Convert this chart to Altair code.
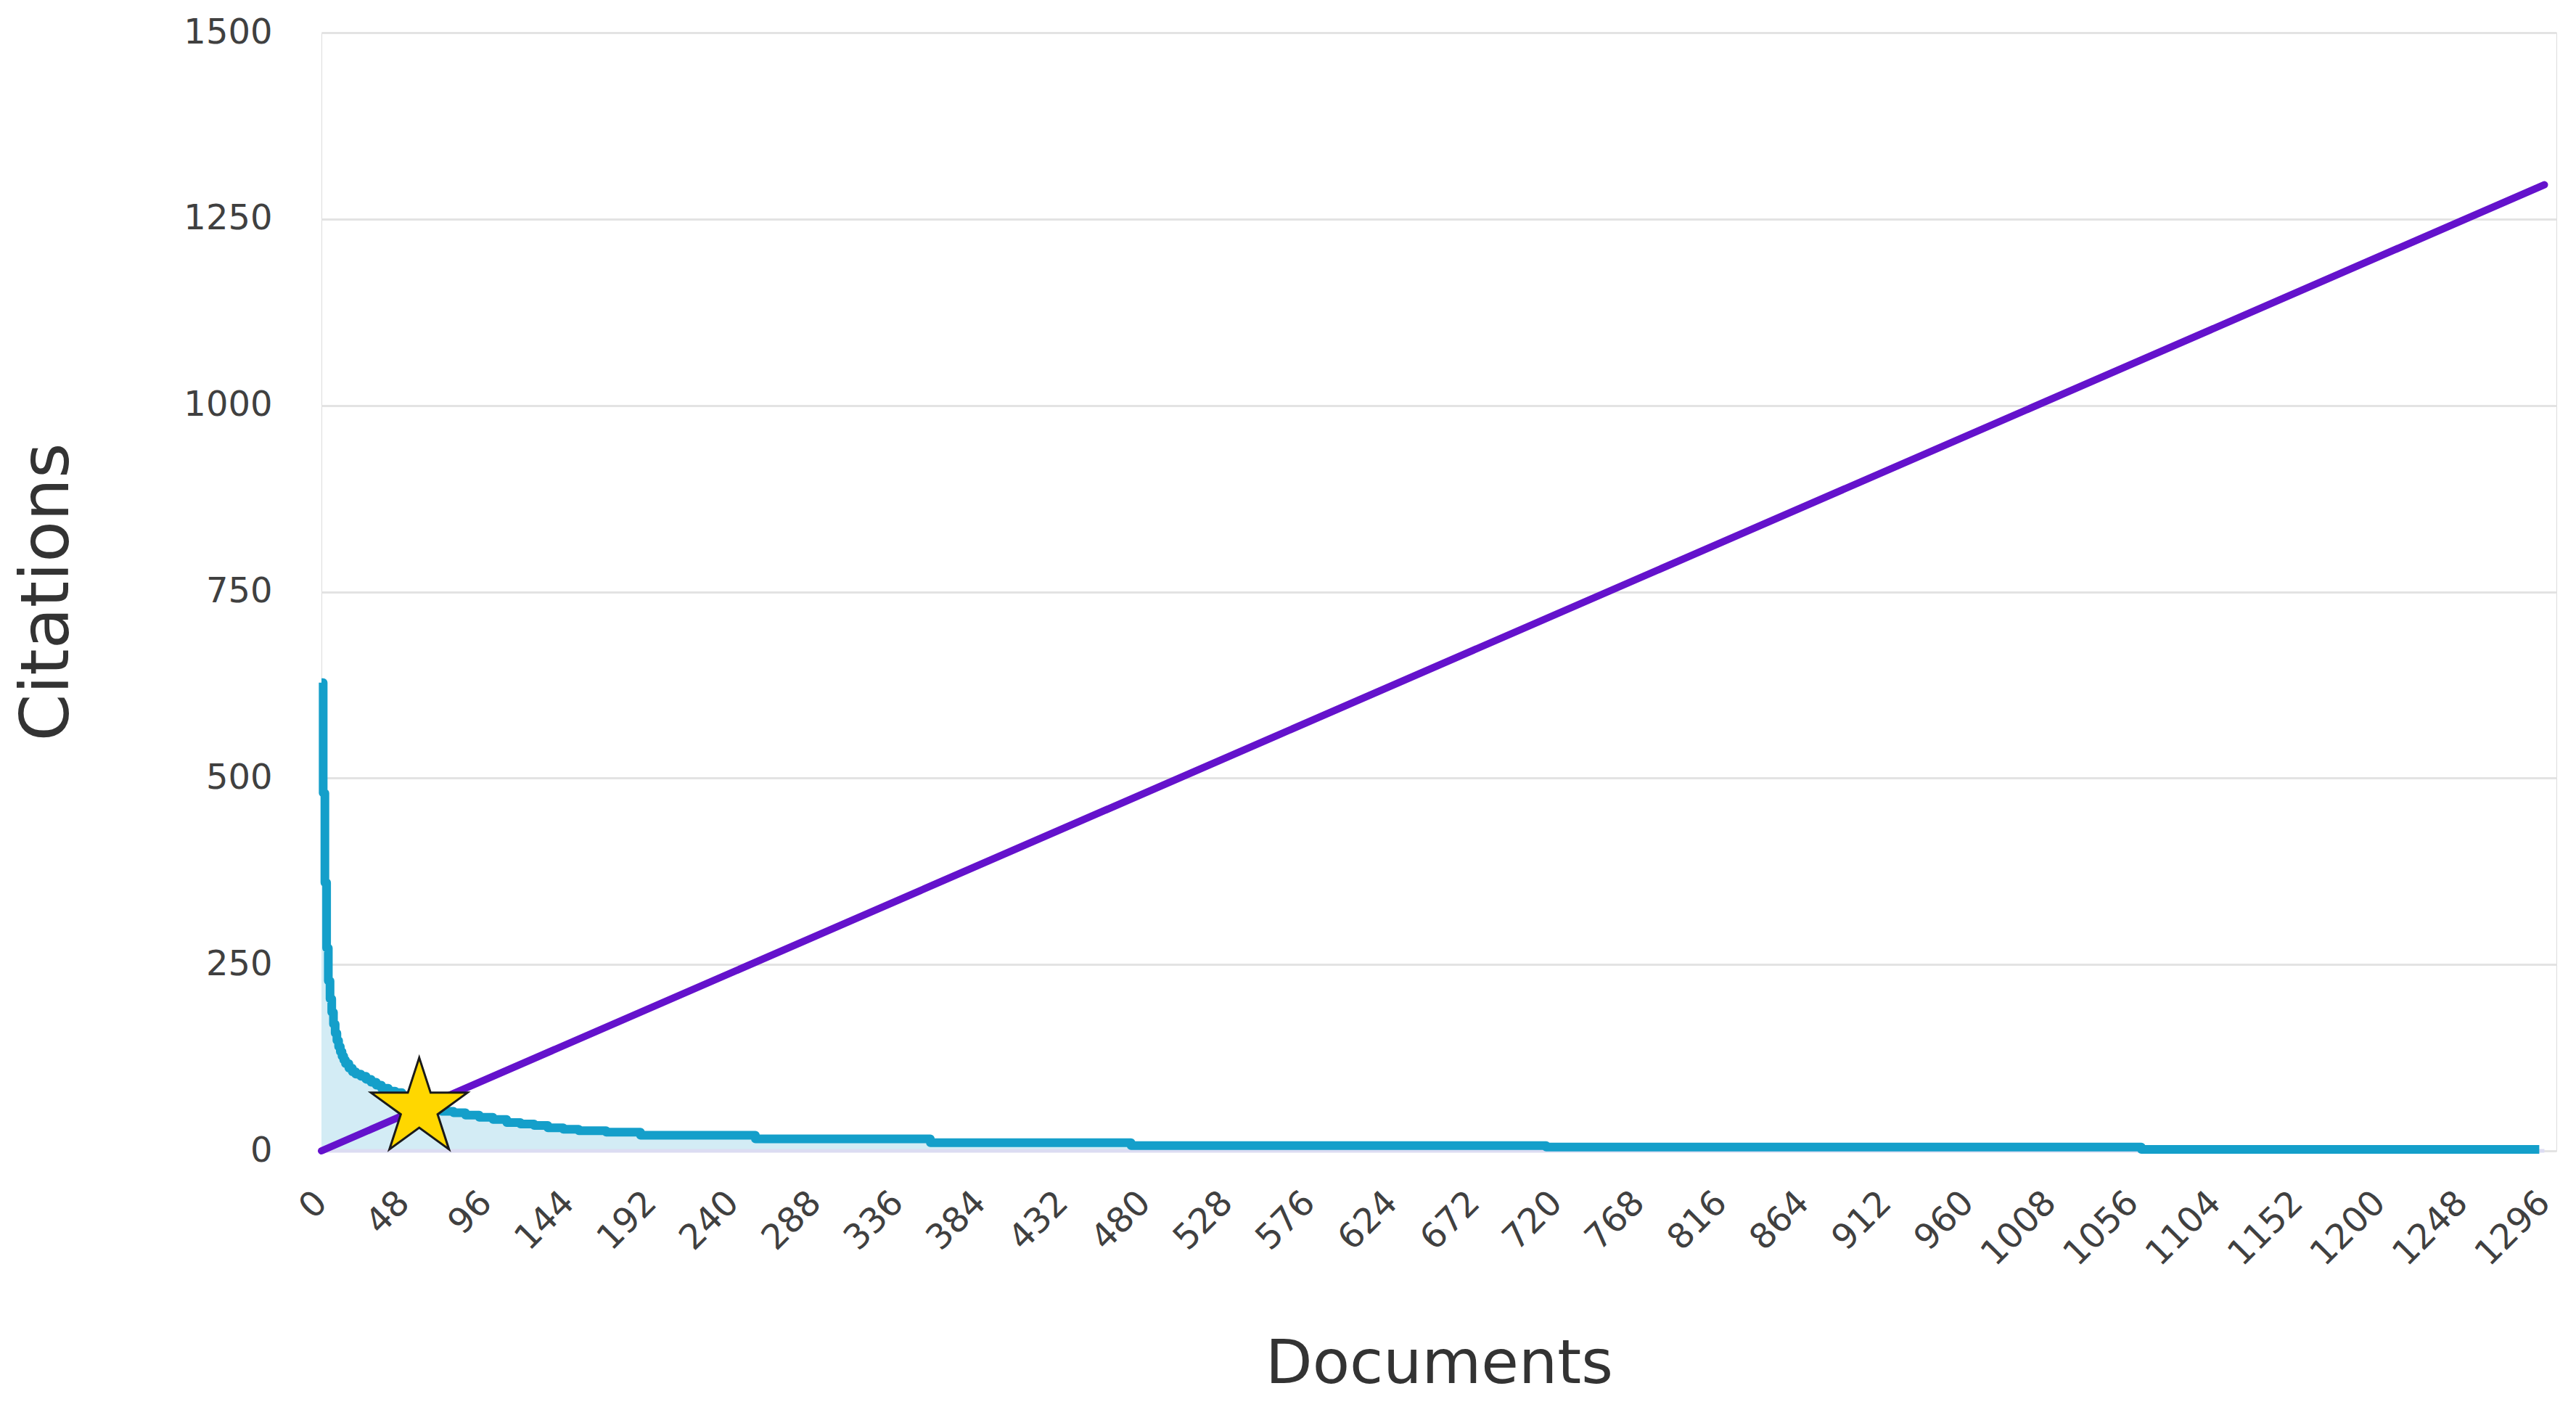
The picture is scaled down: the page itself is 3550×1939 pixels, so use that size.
import altair as alt
import pandas as pd

# Blue series: citations per document (sorted), given as step breakpoints
doc_rank = [0, 1, 2, 3, 4, 5, 6, 7, 8, 9, 10, 11, 12, 13, 14, 16, 18, 20, 23, 26,
            29, 32, 35, 39, 43, 47, 51, 55, 59, 64, 70, 77, 84, 92, 100, 108, 116,
            124, 132, 141, 150, 166, 186, 253, 355, 472, 714, 1061, 1293]
citations = [628, 480, 360, 272, 228, 204, 186, 170, 158, 148, 140, 133, 127, 122,
             117, 111, 106, 103, 100, 96, 92, 88, 84, 80, 78, 74, 68, 62, 58, 55,
             53, 51, 48, 45, 42, 38, 36, 34, 31, 29, 27, 25, 21, 16, 11, 7, 5, 2, 2]

# Purple reference line (citations = documents)
ref_x = [0, 1296]
ref_y = [0, 1296]

# h-index marker
h_index = 57

x_ticks = list(range(0, 1297, 48))
y_ticks = [0, 250, 500, 750, 1000, 1250, 1500]

FONT = "DejaVu Sans"
W, H = 3080, 1541

cit_df = pd.DataFrame({"doc": doc_rank, "cit": citations})
ref_df = pd.DataFrame({"doc": ref_x, "cit": ref_y})
star_df = pd.DataFrame({"doc": [h_index], "cit": [h_index]})
base_df = pd.DataFrame({"doc": [0], "doc2": [1296], "cit": [0]})

xscale = alt.Scale(domain=[0, 1303], nice=False, zero=False)
yscale = alt.Scale(domain=[0, 1500], nice=False)

xaxis = alt.Axis(
    values=x_ticks, format="d", labelAngle=-45, labelAlign="right",
    labelBaseline="middle", labelPadding=64, labelFontSize=48, labelFont=FONT,
    labelColor="#404040", ticks=False, domain=False, grid=False,
    title="Documents", titleFont=FONT, titleFontSize=84, titleFontWeight="normal",
    titleColor="#333333", titleX=W / 2, titleY=294, titleBaseline="middle",
    titleAlign="center", labelOverlap=False, labelFlush=False,
)
yaxis = alt.Axis(
    values=y_ticks, format="d", labelPadding=68, labelFontSize=48, labelFont=FONT,
    labelColor="#404040", ticks=False, domain=False, grid=True,
    gridColor="#e3e3e3", gridWidth=3,
    title="Citations", titleFont=FONT, titleFontSize=93, titleFontWeight="normal",
    titleColor="#333333", titleX=-378, titleY=H / 2, titleBaseline="middle",
    titleAlign="center", titleAngle=-90,
)

area = alt.Chart(cit_df).mark_area(
    interpolate="step-after", color="#d3ecf5", opacity=1
).encode(
    x=alt.X("doc:Q", scale=xscale, axis=xaxis),
    y=alt.Y("cit:Q", scale=yscale, axis=yaxis),
)

baseline = alt.Chart(base_df).mark_rule(color="#dcdcf2", strokeWidth=5).encode(
    x=alt.X("doc:Q", scale=xscale),
    x2="doc2:Q",
    y=alt.Y("cit:Q", scale=yscale),
)

blue_line = alt.Chart(cit_df).mark_line(
    interpolate="step-after", color="#149fca", strokeWidth=12, strokeJoin="round"
).encode(
    x=alt.X("doc:Q", scale=xscale),
    y=alt.Y("cit:Q", scale=yscale),
)

purple = alt.Chart(ref_df).mark_line(
    color="#6412cc", strokeWidth=10, strokeCap="round"
).encode(
    x=alt.X("doc:Q", scale=xscale),
    y=alt.Y("cit:Q", scale=yscale),
)

star_path = ("M0,-1L0.2245,-0.309L0.9511,-0.309L0.3633,0.118L0.5878,0.809"
             "L0,0.382L-0.5878,0.809L-0.3633,0.118L-0.9511,-0.309L-0.2245,-0.309Z")
star = alt.Chart(star_df).mark_point(
    shape=star_path, filled=True, fill="#ffd700", stroke="#1a1a1a",
    strokeWidth=3, size=19500, opacity=1
).encode(
    x=alt.X("doc:Q", scale=xscale),
    y=alt.Y("cit:Q", scale=yscale),
)

chart = alt.layer(area, baseline, blue_line, purple, star).properties(
    width=W, height=H,
    autosize=alt.AutoSizeParams(type="none"),
    padding={"left": 435, "top": 37, "right": 5, "bottom": 344},
).configure_view(stroke=None).configure(background="white")

chart.save("out.html", embed_options={"renderer": "svg", "actions": False})
